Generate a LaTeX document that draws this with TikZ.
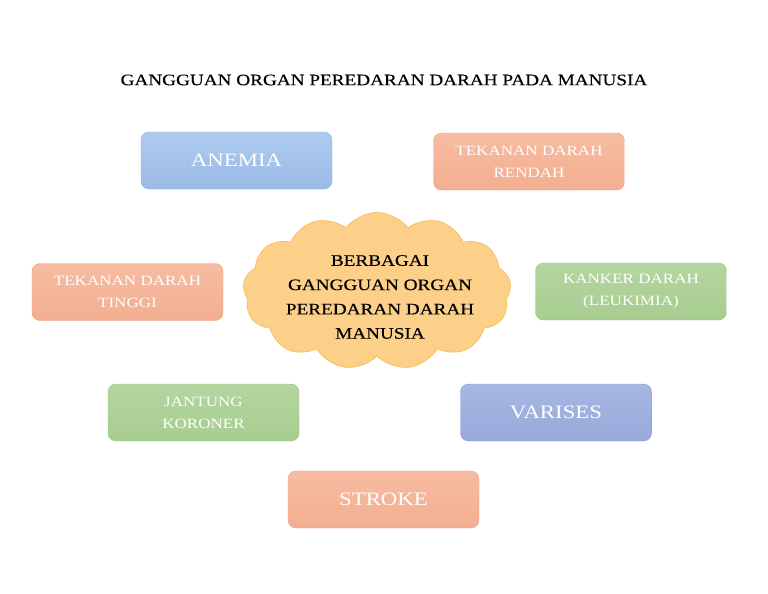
\documentclass[tikz,border=0pt]{standalone}
\usepackage{fontspec}
\setmainfont[FakeStretch=1.2]{Liberation Serif}
\newfontfamily\darkfont[FakeStretch=1.2,FakeBold=0.3]{Liberation Serif}
\usetikzlibrary{shapes.symbols}
\definecolor{bluetop}{HTML}{AECAEE}
\definecolor{bluebot}{HTML}{9BBAE6}
\definecolor{blueedge}{HTML}{8EAFDF}
\definecolor{saltop}{HTML}{F7BCA2}
\definecolor{salbot}{HTML}{F3AE90}
\definecolor{saledge}{HTML}{EFA07E}
\definecolor{grntop}{HTML}{B4D5A0}
\definecolor{grnbot}{HTML}{A7CD8F}
\definecolor{grnedge}{HTML}{9CC47F}
\definecolor{purtop}{HTML}{A8B8E2}
\definecolor{purbot}{HTML}{97A8DA}
\definecolor{puredge}{HTML}{8A9CD5}
\definecolor{cloudfill}{HTML}{FDD08A}
\definecolor{cloudedge}{HTML}{F7C160}
\tikzset{
  box/.style={rounded corners=8pt, minimum width=191pt, minimum height=57pt,
    align=center, text=white, inner sep=0pt},
  bluebox/.style={box, draw=blueedge, top color=bluetop, bottom color=bluebot},
  salbox/.style={box, draw=saledge, top color=saltop, bottom color=salbot},
  grnbox/.style={box, draw=grnedge, top color=grntop, bottom color=grnbot},
  purbox/.style={box, draw=puredge, top color=purtop, bottom color=purbot},
  bigtxt/.style={font=\fontsize{19}{22}\selectfont},
  smalltxt/.style={font=\fontsize{14.2}{22}\selectfont},
}
\begin{document}
\begin{tikzpicture}[x=1pt,y=-1pt]
\useasboundingbox (0,0) rectangle (768,594);
\node (title) at (384,80) {\darkfont\fontsize{16}{18}\selectfont GANGGUAN ORGAN PEREDARAN DARAH PADA MANUSIA};
\node[cloud, cloud puffs=13, cloud puff arc=105, aspect=1.7, draw=cloudedge, fill=cloudfill,
  minimum width=268pt, minimum height=157pt, inner sep=0pt, line width=0.8pt] (cloud) at (377,291) {};
\node[align=center, font=\darkfont\fontsize{16}{24.3}\selectfont] (cloudtext) at (380,297)
  {BERBAGAI\\GANGGUAN ORGAN\\PEREDARAN DARAH\\MANUSIA};
\node[bluebox, bigtxt] (anemia) at (236.5,160.5) {ANEMIA};
\node[salbox, smalltxt] (rendah) at (529,161.5) {TEKANAN DARAH\\RENDAH};
\node[salbox, smalltxt] (tinggi) at (127.5,292) {TEKANAN DARAH\\TINGGI};
\node[grnbox, smalltxt] (kanker) at (631,291.5) {KANKER DARAH\\(LEUKIMIA)};
\node[grnbox, smalltxt] (jantung) at (203.5,412.5) {JANTUNG\\KORONER};
\node[purbox, bigtxt] (varises) at (556,412.5) {VARISES};
\node[salbox, bigtxt] (stroke) at (383.5,499.5) {STROKE};
\end{tikzpicture}
\end{document}
